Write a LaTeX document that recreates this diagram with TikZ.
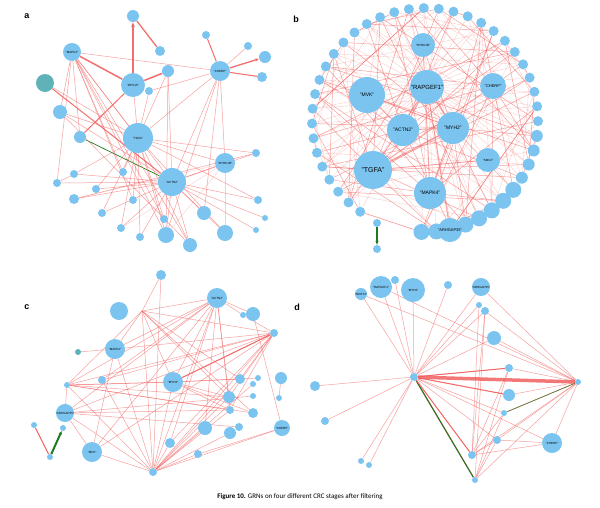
\documentclass[tikz,border=0pt]{standalone}
\usepackage{fontspec}
\setmainfont{Carlito}
\setsansfont{Liberation Sans}
\usetikzlibrary{arrows.meta,backgrounds}
\definecolor{genecol}{HTML}{7CC4F0}
\definecolor{linkcol}{HTML}{F0605F}
\definecolor{inhcol}{HTML}{1E7A1E}
\definecolor{tealcol}{HTML}{5FB3B8}
\tikzset{
  gn/.style={circle,fill=genecol,inner sep=0pt,font=\sffamily\fontsize{3}{3}\selectfont},
  lnk/.style={draw=linkcol,line width=0.5pt,opacity=0.6},
  faint/.style={draw=linkcol,line width=0.4pt,opacity=0.3},
  heavy/.style={draw=linkcol,line width=2pt,opacity=0.9},
  inh/.style={draw=inhcol,line width=0.7pt},
  panel/.style={font=\sffamily\bfseries\fontsize{9}{9}\selectfont}
}
\begin{document}
\begin{tikzpicture}[x=1pt,y=-1pt]
\useasboundingbox (0,0) rectangle (600,507);

% panel labels
\node[panel] (la) at (27,16) {a};
\node[panel] (lb) at (296,19) {b};
\node[panel] (lc) at (27,307) {c};
\node[panel] (ld) at (297,307) {d};

% ---------------- panel a ----------------
\node[gn,minimum size=12] (aRPL) at (133,16) {};
\node[gn,minimum size=10] (aS1) at (160,51) {};
\node[gn,minimum size=18] (aMAPK) at (72,52) {"MAPK4"};
\node[gn,minimum size=18,fill=tealcol] (aTeal) at (45,83) {};
\node[gn,minimum size=24] (aRPS) at (133,85) {"RPS15"};
\node[gn,minimum size=12] (aS2) at (168,71) {};
\node[gn,minimum size=8] (aS3) at (149,91) {};
\node[gn,minimum size=20] (aCHERP) at (220,71) {"CHERP"};
\node[gn,minimum size=8] (aC1) at (206,35) {};
\node[gn,minimum size=8] (aC2) at (248,46) {};
\node[gn,minimum size=12] (aC3) at (265,57) {};
\node[gn,minimum size=10] (aC4) at (262,77) {};
\node[gn,minimum size=14] (aS5) at (60,112) {};
\node[gn,minimum size=30] (aTGFA) at (138,138) {"TGFA"};
\node[gn,minimum size=12] (aS6) at (80,137) {};
\node[gn,minimum size=20] (aDYRK) at (225,163) {"DYRK1B"};
\node[gn,minimum size=28] (aACTN) at (172,182) {"ACTN2"};
\foreach \n/\x/\y/\r in {1/256/153/4,2/74/174/4,3/57/183/4,4/123/172/4,5/96/189/4,
  6/74/199/5,7/133/200/4,8/102/213/4,9/164/219/4,10/204/213/7,11/258/200/4,
  12/265/218/3,13/256/230/3,14/121/228/4,15/140/237/4,16/166/235/8,17/225/233/8,18/190/245/7}
  \node[gn,minimum size=2*\r] (a\n) at (\x,\y) {};

\begin{scope}[on background layer]
\draw[heavy,-{Stealth[length=5pt]}] (aRPS) -- (aRPL);
\draw[heavy,line width=1.3pt] (aS1) -- (aRPL);
\draw[heavy,line width=1.5pt] (aMAPK) -- (aRPS);
\draw[heavy,line width=1.5pt] (aRPS) -- (aS2);
\draw[heavy,line width=1.3pt,-{Stealth[length=4pt]}] (aCHERP) -- (aC3);
\draw[heavy,line width=1pt] (aCHERP) -- (aC1);
\draw[heavy,line width=1pt] (aCHERP) -- (aC4);
\draw[lnk] (aCHERP) -- (aC2);
\draw[heavy,line width=1pt] (aTeal) -- (aACTN);
\draw[heavy,line width=1pt] (aS6) -- (aRPS);
\draw[inh] (aS6) -- (aACTN);
\foreach \b in {aCHERP,aTGFA,aACTN,aS5,aS6,a3,a4,a7,a9,a16,a18}
  \draw[lnk] (aMAPK) -- (\b);
\foreach \b in {aRPS,aS2,aS3,aCHERP,aDYRK,aTeal,aS5,a1,a2,a4,a5,a7,a8,a9,a11,a14,a15,a16,a17,a18}
  \draw[lnk] (aTGFA) -- (\b);
\foreach \b in {aS2,aCHERP,aDYRK,aS5,a1,a2,a3,a5,a6,a8,a10,a11,a12,a13,a14,a15,a16,a17,a18}
  \draw[lnk] (aACTN) -- (\b);
\foreach \b in {aDYRK,a10,a16,aS3}
  \draw[lnk] (aCHERP) -- (\b);
\foreach \b in {a6,a14,a16,a17}
  \draw[faint] (aDYRK) -- (\b);
\draw[lnk] (aS2) -- (a16);
\draw[lnk] (aS5) -- (a18);
\draw[lnk] (a2) -- (a3);
\draw[lnk] (a1) -- (a6);
\end{scope}

% ---------------- panel b ----------------
\node[gn,minimum size=24] (bDYRK) at (423,45) {"DYRK1B"};
\node[gn,minimum size=34,font=\sffamily\fontsize{6}{6}\selectfont] (bRAP) at (427,87) {"RAPGEF1"};
\node[gn,minimum size=36,font=\sffamily\fontsize{5}{5}\selectfont] (bMVK) at (367,95) {"MVK"};
\node[gn,minimum size=26,font=\sffamily\fontsize{4}{4}\selectfont] (bCHERP) at (493,86) {"CHERP"};
\node[gn,minimum size=32,font=\sffamily\fontsize{5}{5}\selectfont] (bACTN) at (403,130) {"ACTN2"};
\node[gn,minimum size=32,font=\sffamily\fontsize{5}{5}\selectfont] (bMYH) at (453,128) {"MYH2"};
\node[gn,minimum size=38,font=\sffamily\fontsize{7}{7}\selectfont] (bTGFA) at (373,170) {"TGFA"};
\node[gn,minimum size=24] (bSMG) at (488,160) {"SMG7"};
\node[gn,minimum size=32,font=\sffamily\fontsize{5}{5}\selectfont] (bMAPK) at (430,193) {"MAPK4"};
\foreach \i in {1,...,44} {
  \pgfmathsetmacro\t{235-7.6*(\i-1)}
  \pgfmathsetmacro\r{\i>36 ? 8 : (\i>32 ? 6 : 5)}
  \node[gn,minimum size=2*\r] (bR\i) at ({425+113*cos(\t)},{120-112*sin(\t)}) {};
}
\node[gn,minimum size=24,font=\sffamily\fontsize{4}{4}\selectfont] (bARH) at (450,230) {"ARHGAP35"};
\node[gn,minimum size=8] (bG1) at (377,223) {};
\node[gn,minimum size=8] (bG2) at (377,249) {};

\begin{scope}[on background layer]
\draw[inhcol,line width=2pt,-{Stealth[length=4pt]}] (bG1) -- (bG2);
\foreach \i in {1,...,44} {
  \draw[faint] (bRAP) -- (bR\i);
  \pgfmathtruncatemacro\j{mod(\i*7,44)+1}
  \draw[lnk] (bR\i) -- (bR\j);
  \pgfmathtruncatemacro\k{mod(\i*13,44)+1}
  \draw[faint] (bR\i) -- (bR\k);
}
\foreach \i in {2,5,9,13,17,21,26,30,35,40,43}
  \draw[lnk] (bTGFA) -- (bR\i);
\foreach \i in {3,8,14,19,24,29,33,37,41}
  \draw[lnk] (bMYH) -- (bR\i);
\foreach \i in {6,11,16,22,27,36,42}
  \draw[lnk] (bACTN) -- (bR\i);
\foreach \i in {4,10,18,25,31,38}
  \draw[lnk] (bMAPK) -- (bR\i);
\foreach \i in {7,12,20,28,34,39,44}
  \draw[lnk] (bCHERP) -- (bR\i);
\foreach \a/\b in {bTGFA/bMYH,bTGFA/bRAP,bACTN/bMYH,bACTN/bRAP,bMYH/bRAP,bMVK/bMYH,
  bDYRK/bMAPK,bSMG/bTGFA,bCHERP/bTGFA,bMAPK/bMYH,bMVK/bACTN,bARH/bRAP}
  \draw[lnk,line width=0.9pt] (\a) -- (\b);
\end{scope}

% ---------------- panel c ----------------
\coordinate (cHub) at (142,311);
\node[gn,minimum size=10] (cTop) at (161,275) {};
\node[gn,minimum size=18] (cBig) at (119,311) {};
\node[gn,minimum size=20] (cACTN) at (217,298) {"ACTN2"};
\node[gn,minimum size=20] (cMAPK) at (115,349) {"MAPK4"};
\node[gn,minimum size=6,fill=tealcol] (cGr) at (78,352) {};
\node[gn,minimum size=14] (c1) at (253,314) {};
\node[gn,minimum size=8] (cRH) at (274,333) {};
\node[gn,minimum size=20] (cMYH) at (173,382) {"MYH2"};
\node[gn,minimum size=16] (cARH) at (65,413) {"ARHGAP35"};
\node[gn,minimum size=20] (cMVK) at (92,452) {"MVK"};
\node[gn,minimum size=16] (cCHERP) at (282,428) {"CHERP"};
\node[gn,minimum size=8] (cBot) at (153,472) {};
\node[gn,minimum size=6] (cV1) at (34,425) {};
\node[gn,minimum size=6] (cV2) at (63,428) {};
\node[gn,minimum size=6] (cV) at (50,457) {};
\foreach \n/\x/\y/\r in {2/102/380/4,3/67/385/3,4/240/379/5,5/258/378/3,6/253/384/3,
  7/253/396/3,8/281/378/6,9/279/398/3,10/229/397/6,11/230/410/4,12/253/413/5,
  13/205/428/7,14/239/427/4,15/230/433/6,16/170/443/5,17/198/454/4,18/243/315/3}
  \node[gn,minimum size=2*\r] (c\n) at (\x,\y) {};

\begin{scope}[on background layer]
\draw[linkcol,line width=1pt] (cV1) -- (cV);
\draw[inhcol,line width=2pt,-{Stealth[length=4pt]}] (cV) -- (cV2);
\draw[lnk] (cGr) -- (cMAPK);
\draw[lnk] (c8) -- (c9);
\foreach \b in {cTop,cACTN,cMAPK,cMYH,cRH,c10,c12,cBot,c4,c3}
  \draw[lnk] (cHub) -- (\b);
\foreach \b in {cMAPK,c3,cARH,cMYH,c1,c2,c10,c11,c13,c16,cMVK,cBot,c18}
  \draw[lnk] (cACTN) -- (\b);
\foreach \b in {cMAPK,c2,c3,cARH,cMYH,c10,c11,c4,cBot,cMVK,c16,c18}
  \draw[lnk] (cRH) -- (\b);
\draw[heavy,line width=1pt] (cRH) -- (cMYH);
\foreach \b in {cMAPK,cARH,cMVK,c2,c3,cMYH,c10,c11,c13,c16,c17,cCHERP,c15,c4,c6,cTop}
  \draw[lnk] (cBot) -- (\b);
\foreach \b in {c3,c10,c11,c12,c4,c5}
  \draw[lnk] (cMYH) -- (\b);
\foreach \b in {cARH,c10,c11,c12,cMYH}
  \draw[lnk] (c3) -- (\b);
\foreach \b in {c11,c14,c7,cMVK}
  \draw[lnk] (cARH) -- (\b);
\draw[lnk] (c1) -- (cCHERP);
\draw[lnk] (c17) -- (cCHERP);
\draw[lnk] (cMAPK) -- (cMVK);
\end{scope}

% ---------------- panel d ----------------
\node[gn,minimum size=8] (dHub) at (414,377) {};
\node[gn,minimum size=6] (dRH) at (578,382) {};
\node[gn,minimum size=22] (dRAP) at (381,287) {"RAPGEF1"};
\node[gn,minimum size=24] (dMYH) at (413,290) {"MYH2"};
\node[gn,minimum size=12] (dNDST) at (361,294) {"NDST2"};
\node[gn,minimum size=18] (dARH) at (481,287) {"ARHGAP35"};
\node[gn,minimum size=20] (dCHERP) at (552,443) {"CHERP"};
\foreach \n/\x/\y/\r in {1/395/280/4,2/448/285/4,3/479/305/3,4/485/311/4,5/494/338/7,
  6/315/386/5,7/325/421/4,8/361/461/3,9/369/465/3,10/509/368/4,11/509/395/6,
  12/504/413/3,13/497/440/4,14/472/455/4,15/475/480/3}
  \node[gn,minimum size=2*\r] (d\n) at (\x,\y) {};

\begin{scope}[on background layer]
\draw[heavy,line width=3.5pt,opacity=0.85] (dHub) -- (dRH);
\draw[heavy,line width=1.2pt] (dHub) -- (d15);
\draw[inh,line width=1pt] (dHub) -- (d15);
\draw[inh] (d12) -- (dRH);
\foreach \b in {dRAP,dMYH,dNDST,d1,d2,dARH,d3,d4,d5,d6,d7,d8,d9,d10,d11,d12,d13,d14,dCHERP}
  \draw[lnk] (dHub) -- (\b);
\foreach \b in {d10,d11,d14}
  \draw[heavy,line width=1pt] (dHub) -- (\b);
\foreach \b in {dARH,d4,d5,dNDST,dRAP,d10,d11,d12,d13,d14,d15,dCHERP}
  \draw[lnk] (dRH) -- (\b);
\foreach \b in {d10,d4,d3,d12,d13,dCHERP}
  \draw[lnk] (d14) -- (\b);
\foreach \b in {d10,d4,d12,d13}
  \draw[lnk] (d15) -- (\b);
\draw[lnk] (d13) -- (dCHERP);
\end{scope}

% caption
\node[font=\fontsize{7}{8}\selectfont] (cap) at (300,497)
  {\textbf{Figure 10.} GRNs on four different CRC stages after filtering};
\end{tikzpicture}
\end{document}
